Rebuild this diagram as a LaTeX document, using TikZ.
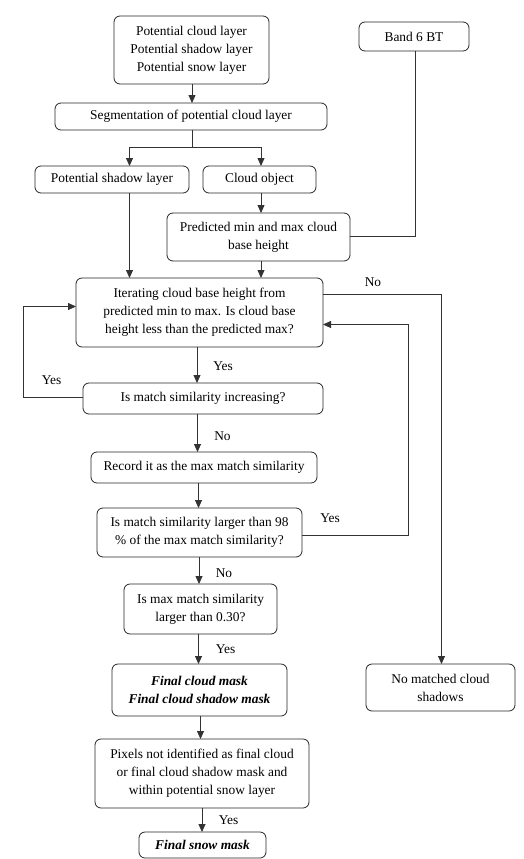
\documentclass[tikz,border=0pt]{standalone}
\usepackage{fontspec}
\setmainfont{Liberation Serif}
\usetikzlibrary{arrows.meta}
\begin{document}
\begin{tikzpicture}[x=1pt,y=-1pt,
  box/.style={draw=black!85,line width=0.8pt,rounded corners=6pt,inner sep=0pt,outer sep=0pt,align=center,
    font=\fontsize{13.4}{18}\selectfont},
  lbl/.style={inner sep=0pt,font=\fontsize{13.4}{18}\selectfont},
  conn/.style={draw=black!80,line width=0.8pt},
  arr/.style={conn,-{Triangle[length=8pt,width=7pt]}},
  bi/.style={font=\fontsize{13.4}{18}\selectfont\bfseries\itshape}]
\useasboundingbox (0,0) rectangle (524,859);
\node[box,minimum width=155pt,minimum height=68pt] (top) at (191.5,50) {Potential cloud layer\\Potential shadow layer\\Potential snow layer};
\node[box,minimum width=110pt,minimum height=29pt] (band) at (414,36.5) {Band 6 BT};
\node[box,minimum width=272pt,minimum height=27pt] (seg) at (191,116.5) {Segmentation of potential cloud layer};
\node[box,minimum width=154pt,minimum height=27pt] (shad) at (112,179.5) {Potential shadow layer};
\node[box,minimum width=113pt,minimum height=27pt] (cobj) at (259.5,179.5) {Cloud object};
\node[box,minimum width=183pt,minimum height=48pt] (pred) at (258.5,237) {Predicted min and max cloud\\base height};
\node[box,minimum width=247pt,minimum height=69pt] (iter) at (199.5,312.5) {Iterating cloud base height from\\predicted min to max. Is cloud base\\height less than the predicted max?};
\node[box,minimum width=240pt,minimum height=31pt] (incr) at (203,398.5) {Is match similarity increasing?};
\node[box,minimum width=226pt,minimum height=31pt] (rec) at (204,467.5) {Record it as the max match similarity};
\node[box,minimum width=205pt,minimum height=49pt] (ninety) at (199.5,532.5) {Is match similarity larger than 98\\\% of the max match similarity?};
\node[box,minimum width=153pt,minimum height=50pt] (ismax) at (200.5,609) {Is max match similarity\\larger than 0.30?};
\node[box,minimum width=175pt,minimum height=52pt,bi] (fcm) at (199.5,690) {Final cloud mask\\Final cloud shadow mask};
\node[box,minimum width=214pt,minimum height=69pt] (pix) at (202,773.5) {Pixels not identified as final cloud\\or final cloud shadow mask and\\within potential snow layer};
\node[box,minimum width=127pt,minimum height=26pt,bi] (snow) at (202.5,845) {Final snow mask};
\node[box,minimum width=149pt,minimum height=47pt] (nom) at (440.5,687.5) {No matched cloud\\shadows};
% x guides
\coordinate (x192) at (192,0);
\coordinate (x129) at (129.5,0);
\coordinate (x261) at (261,0);
\coordinate (x415) at (415,0);
\coordinate (x441) at (441.5,0);
\coordinate (x408) at (408.5,0);
\coordinate (x23) at (23,0);
\coordinate (x197) at (197,0);
\coordinate (x1975) at (197.5,0);
\coordinate (x1985) at (198.5,0);
\coordinate (x199) at (199,0);
\coordinate (x2005) at (200.5,0);
\coordinate (x202) at (202,0);
\coordinate (y147) at (0,147);
\coordinate (y236) at (0,236);
\coordinate (y294) at (0,294);
\coordinate (y324) at (0,324.5);
\coordinate (y535) at (0,535);
\coordinate (y397) at (0,397);
\coordinate (y307) at (0,306.5);
% connectors
\draw[arr] (top.south -| x192) -- (seg.north -| x192);
\draw[conn] (seg.south -| x192) -- (x192 |- y147);
\draw[arr] (x129 |- y147) -- (shad.north -| x129);
\draw[arr] (x261 |- y147) -- (cobj.north -| x261);
\draw[conn] (x129 |- y147) -- (x261 |- y147);
\draw[arr] (shad.south -| x129) -- (iter.north -| x129);
\draw[arr] (cobj.south -| x261) -- (pred.north -| x261);
\draw[arr] (pred.south -| x261) -- (iter.north -| x261);
\draw[conn] (band.south -| x415) -- (x415 |- y236) -- (pred.east |- y236);
\draw[arr] (iter.east |- y294) -- (x441 |- y294) -- (nom.north -| x441);
\draw[arr] (ninety.east |- y535) -- (x408 |- y535) -- (x408 |- y324) -- (iter.east |- y324);
\draw[arr] (iter.south -| x197) -- (incr.north -| x197);
\draw[arr] (incr.west |- y397) -- (x23 |- y397) -- (x23 |- y307) -- (iter.west |- y307);
\draw[arr] (incr.south -| x1975) -- (rec.north -| x1975);
\draw[arr] (rec.south -| x1985) -- (ninety.north -| x1985);
\draw[arr] (ninety.south -| x199) -- (ismax.north -| x199);
\draw[arr] (ismax.south -| x1985) -- (fcm.north -| x1985);
\draw[arr] (fcm.south -| x2005) -- (pix.north -| x2005);
\draw[arr] (pix.south -| x202) -- (snow.north -| x202);
% labels
\node[lbl] (lno1) at (373,282) {No};
\node[lbl] (lyes1) at (330,518) {Yes};
\node[lbl] (lyes2) at (223,366) {Yes};
\node[lbl] (lyes3) at (51.5,380) {Yes};
\node[lbl] (lno2) at (222.5,436) {No};
\node[lbl] (lno3) at (224,573) {No};
\node[lbl] (lyes4) at (225.5,649) {Yes};
\node[lbl] (lyes5) at (228.5,820) {Yes};
\end{tikzpicture}
\end{document}
